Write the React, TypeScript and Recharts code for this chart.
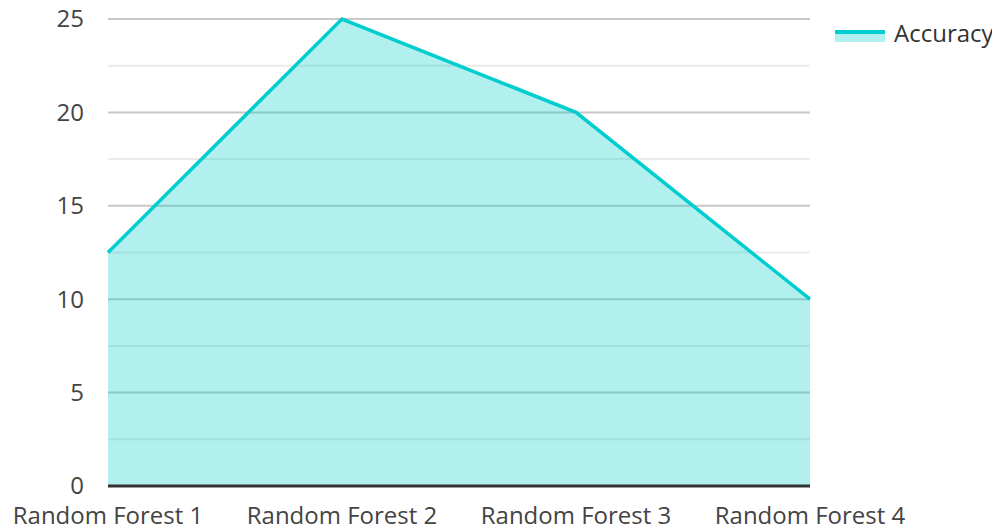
import React from 'react';
import { AreaChart, Area, XAxis, YAxis, CartesianGrid } from 'recharts';

// Model names on the x axis and their accuracy values
const models = ['Random Forest 1', 'Random Forest 2', 'Random Forest 3', 'Random Forest 4'];
const accuracy = [12.5, 25, 20, 10];
// y ticks: labelled majors every 5, unlabelled minors in between
const yTicks = [0, 2.5, 5, 7.5, 10, 12.5, 15, 17.5, 20, 22.5, 25];

const data = models.map((name, i) => ({ name, accuracy: accuracy[i] }));

const LINE = '#00cdcd';
const FONT = '"Open Sans", sans-serif';

const YTick = ({ x, y, payload }: any) => {
  if (payload.value % 5 !== 0) return null;
  return (
    <text x={x} y={y} dy="0.35em" textAnchor="end" fill="#444" fontSize={24} fontFamily={FONT}>
      {payload.value}
    </text>
  );
};

const GridLine = (props: any) => {
  const { x1, x2, y1, y2, index } = props;
  const minor = index % 2 === 1;
  return <line x1={x1} x2={x2} y1={y1} y2={y2} stroke={minor ? '#ebebeb' : '#c8c8c8'} strokeWidth={2} />;
};

const App: React.FC = () => {
  return (
    <div style={{ position: 'relative', width: 992, height: 518, fontFamily: FONT }}>
      <AreaChart width={992} height={518} data={data} margin={{ top: 11, right: 190, left: 0, bottom: 0 }}>
        <CartesianGrid vertical={false} horizontal={GridLine as any} />
        <XAxis
          dataKey="name"
          tickLine={false}
          axisLine={{ stroke: '#333', strokeWidth: 3 }}
          tick={{ fill: '#444', fontSize: 24, fontFamily: FONT }}
          tickMargin={15}
          height={40}
          interval={0}
        />
        <YAxis
          domain={[0, 25]}
          ticks={yTicks}
          axisLine={false}
          tickLine={false}
          tick={<YTick />}
          tickMargin={18}
          width={100}
        />
        <Area
          type="linear"
          dataKey="accuracy"
          stroke={LINE}
          strokeWidth={3.5}
          fill={LINE}
          fillOpacity={0.3}
          isAnimationActive={false}
          dot={false}
          activeDot={false}
        />
      </AreaChart>
      <div style={{ position: 'absolute', left: 827, top: 8, display: 'flex', alignItems: 'center' }}>
        <svg width={50} height={18} style={{ marginRight: 9 }}>
          <rect x={0} y={8} width={50} height={10} fill={LINE} fillOpacity={0.3} />
          <line x1={0} x2={50} y1={8} y2={8} stroke={LINE} strokeWidth={4} />
        </svg>
        <span style={{ fontSize: 24, color: '#333' }}>Accuracy</span>
      </div>
    </div>
  );
};

export default App;
